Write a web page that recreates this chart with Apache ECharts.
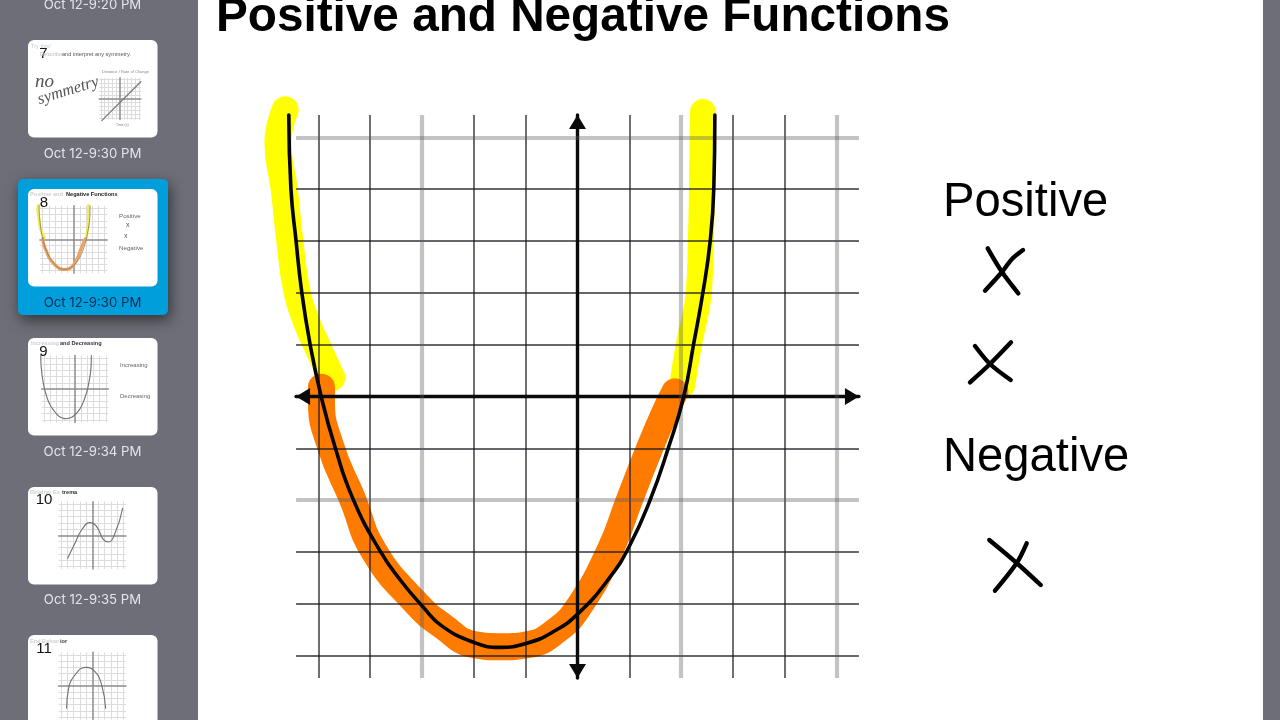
<!DOCTYPE html>
<html><head><meta charset="utf-8">
<style>html,body{margin:0;padding:0;background:#fff}#c{width:1280px;height:720px}</style>
<script src="https://cdn.jsdelivr.net/npm/echarts@6/dist/echarts.min.js"></script>
</head><body><div id="c"></div>
<script>
// ---- data (in graph units) ----
const tickValues = [-5,-4,-3,-2,-1,1,2,3,4,5];
const paleX = [-3,2,5];
const paleY = [5,-2];
const curveX = [-5.57,-5.53,-5.43,-5.32,-5.16,-4.95,-4.68,-4.33,-3.81,-3.42,-2.98,-2.60,-1.98,-1.50,-0.98,-0.47,0.02,0.63,1.01,1.40,1.75,2.05,2.24,2.42,2.56,2.63,2.65];
const curveY = [5.43,4.02,3.00,2.01,1.01,0.02,-0.97,-1.98,-2.98,-3.54,-4.06,-4.44,-4.75,-4.84,-4.76,-4.54,-4.18,-3.48,-2.87,-2.00,-1.00,0.00,1.01,2.01,3.00,4.02,5.43];
const yellowLeftX = [-5.64,-5.78,-5.66,-5.55,-5.41,-5.22,-5.03,-4.74];
const yellowLeftY = [5.53,4.89,4.01,3.00,2.01,1.42,0.99,0.36];
const yellowRightX = [2.42,2.40,2.38,2.34,2.15,2.02];
const yellowRightY = [5.49,3.98,3.00,2.01,1.01,0.22];
const orangeX = [-4.94,-4.94,-4.76,-4.34,-3.93,-3.14,-2.60,-1.98,-1.50,-0.97,-0.40,0.05,0.63,1.00,1.39,1.69,1.88];
const orangeY = [0.18,-0.07,-0.97,-1.98,-2.98,-3.96,-4.43,-4.79,-4.83,-4.79,-4.51,-4.02,-2.96,-2.00,-1.00,-0.30,0.09];
const thumb7X = [-4.74,5.4];
const thumb7Y = [-5.69,4.4];
const thumb10X = [-3.98,-2.80,-1.72,-0.38,0.70,1.77,2.58,3.66,4.89];
const thumb10Y = [-3.71,-1.29,0.86,2.04,1.40,-0.65,-1.08,0.32,4.35];
const thumb11X = [-4.14,-3.87,-2.80,-1.02,0.43,1.51,2.15];
const thumb11Y = [-3.60,-0.65,1.77,3.01,2.31,0.16,-3.60];
const slideTimes = ['Oct 12-9:20 PM','Oct 12-9:30 PM','Oct 12-9:30 PM','Oct 12-9:34 PM','Oct 12-9:35 PM'];
const slideNumbers = ['7','8','9','10','11'];

const zip = (a,b)=>a.map((v,i)=>[v,b[i]]);
const EXT = 5.43, WIDE = 6.2;
const F = '"Liberation Sans", Arial, sans-serif';

const grids=[], xAxes=[], yAxes=[], series=[];
// visible axes plus a hidden, wider pair at the same scale so curves can run past the printed grid
function addAxes(cx,cy,unit,main){
  const idx=grids.length;
  grids.push({left:cx-EXT*unit,top:cy-EXT*unit,width:2*EXT*unit,height:2*EXT*unit,outerBoundsMode:'none'});
  const mk=(pale)=>({
    type:'value',gridIndex:idx,min:-EXT,max:EXT,z:main?3:0,silent:true,
    axisLabel:{show:false},
    axisTick:{show:false,customValues:main?tickValues.filter(v=>!pale.includes(v)):tickValues},
    splitLine:{show:true,lineStyle:main?{color:'rgba(25,25,30,0.66)',width:1.9}:{color:'#dcdcdc',width:1}},
    axisLine:{show:true,onZero:true,lineStyle:main?{color:'#0a0a0a',width:3.4}:{color:'#8d8d8d',width:1.5},
      symbol:main?['triangle','triangle']:'none',symbolSize:[17,14],symbolOffset:[7,-7]}
  });
  xAxes.push(mk(paleX)); yAxes.push(mk(paleY));
  grids.push({left:cx-WIDE*unit,top:cy-WIDE*unit,width:2*WIDE*unit,height:2*WIDE*unit,outerBoundsMode:'none'});
  const hid=()=>({type:'value',gridIndex:idx+1,min:-WIDE,max:WIDE,show:false,silent:true,axisLabel:{show:false},axisLine:{show:false},axisTick:{show:false},splitLine:{show:false}});
  xAxes.push(hid()); yAxes.push(hid());
  return idx;
}
function line(idx,data,color,width,z,smooth){
  series.push({type:'line',xAxisIndex:idx+1,yAxisIndex:idx+1,data,showSymbol:false,symbol:'none',silent:true,z,
    smooth:smooth===undefined?0.5:smooth,lineStyle:{color,width,cap:'round',join:'round'},animation:false});
}
// main plot
const m=addAxes(577.5,396.5,51.83,true);
line(m,zip(yellowLeftX,yellowLeftY),'#ffff00',27,1);
line(m,zip(yellowRightX,yellowRightY),'#ffff00',26,1);
line(m,zip(orangeX,orangeY),'#ff7b00',27,2);
series.push({type:'line',xAxisIndex:m,yAxisIndex:m,data:[],silent:true,z:4,animation:false,
  markLine:{silent:true,z:4,symbol:'none',animation:false,label:{show:false},
    lineStyle:{type:'solid',color:'rgba(90,90,95,0.36)',width:4.2},
    data:[...paleX.map(v=>({xAxis:v})),...paleY.map(v=>({yAxis:v}))]}});
line(m,zip(curveX,curveY),'#050505',3.6,6);
// thumbnails
const t7=addAxes(120,98.7,3.85,false);
line(t7,zip(thumb7X,thumb7Y),'#777',1.2,3,false);
const t8=addAxes(73.6,239.5,6.2,false);
line(t8,zip(yellowLeftX,yellowLeftY),'#f2ee55',3,3);
line(t8,zip(yellowRightX,yellowRightY),'#f2ee55',3,3);
line(t8,zip(orangeX,orangeY),'#eba464',3.2,4);
line(t8,zip(curveX,curveY),'#8a7a60',0.8,5);
const t9=addAxes(75,389,6.15,false);
line(t9,zip(curveX,curveY),'#707070',1.1,3);
const t10=addAxes(92.3,535.3,6.2,false);
line(t10,zip(thumb10X,thumb10Y),'#707070',1.1,3);
const t11=addAxes(92.3,686,6.2,false);
line(t11,zip(thumb11X,thumb11Y),'#707070',1.1,3);

// slide chrome
const g=[];
const text=(x,y,s,font,fill,align,extra)=>g.push(Object.assign({type:'text',z:20,silent:true,
  style:{x,y,text:s,font,fill,align:align||'left',textAlign:align||'left',verticalAlign:'middle',textVerticalAlign:'middle'}},extra||{}));
g.push({type:'rect',z:-5,shape:{x:0,y:0,width:198,height:720},style:{fill:'#6e6e78'}});
g.push({type:'rect',z:-5,shape:{x:1263,y:0,width:17,height:720},style:{fill:'#6e6e78'}});
g.push({type:'rect',z:-4,shape:{x:18,y:179,width:150,height:136,r:5},style:{fill:'#009fdb',shadowBlur:14,shadowOffsetY:5,shadowOffsetX:2,shadowColor:'rgba(0,0,0,0.55)'}});
[40,189,338,487,635].forEach(y=>g.push({type:'rect',z:-3,shape:{x:28,y,width:129.5,height:97.5,r:6},style:{fill:'#fff'}}));
const timeFont='13.2px Inter, '+F;
[5,154,303,452,600].forEach((y,i)=>text(92.5,y,slideTimes[i],timeFont,i===2?'#0c2c58':'#e4e4e8','center'));
[[43.5,54],[44,203],[43.5,352],[44,500],[44,649]].forEach((p,i)=>text(p[0],p[1],slideNumbers[i],'15px '+F,'#111','center'));
const tiny='bold 5.6px '+F, tinyN='5.6px '+F;
text(31,46,'Try this!',tinyN,'#c8c8c8');
text(40,54,'Describe',tinyN,'#c0c0c0'); text(62,54,'and interpret any symmetry.',tinyN,'#555');
text(102,72,'Distance / Rate of Change','4px '+F,'#888');
text(116,125,'Time (s)','3.5px '+F,'#888');
text(35,82,'no','italic 19px "Liberation Serif", serif','#555');
text(38,100,'symmetry','italic 16.5px "Liberation Serif", serif','#555','left',{rotation:0.3,originX:38,originY:100});
text(30,194,'Positive and',tiny,'#cfcfcf'); text(66,194,'Negative Functions',tiny,'#222');
text(119,216,'Positive','6.2px '+F,'#666'); text(119,248,'Negative','6.2px '+F,'#666');
text(126,225,'x','7px '+F,'#555'); text(124,236,'x','7px '+F,'#555');
text(31,343,'Increasing',tiny,'#cfcfcf'); text(60,343,'and Decreasing',tiny,'#333');
text(120,365.5,'Increasing','6px '+F,'#666'); text(120,396.5,'Decreasing','6px '+F,'#666');
text(30,492,'Relative Ex',tiny,'#cfcfcf'); text(62,492,'trema',tiny,'#333');
text(30,641,'End Behav',tiny,'#cfcfcf'); text(60,641,'ior',tiny,'#333');
// main texts
text(216,18,'Positive and Negative Functions','bold 47.7px '+F,'#000');
text(943,203,'Positive','47.2px '+F,'#000');
text(943,458,'Negative','47.2px '+F,'#000');
// handwritten crosses
const strokes=[
 [[987.7,248.3],[1002,272],[1018.3,293.3]],[[1023,250],[1012,259],[1002,272],[985,290.7]],
 [[975,346],[990,364],[1010.7,380]],[[1011,342.3],[990,364],[970,382.3]],
 [[989.3,540],[1016.7,563],[1040.7,585]],[[1026.7,543.3],[1016.7,563],[995,590.7]]];
strokes.forEach(p=>g.push({type:'polyline',z:20,silent:true,shape:{points:p,smooth:0.3},style:{stroke:'#000',lineWidth:4.4,lineCap:'round',lineJoin:'round',fill:null}}));

const chart=echarts.init(document.getElementById('c'),null,{renderer:'canvas'});
chart.setOption({animation:false,backgroundColor:'#fff',tooltip:{show:false},legend:{show:false},
  grid:grids,xAxis:xAxes,yAxis:yAxes,series,graphic:{elements:g}});
</script></body></html>
